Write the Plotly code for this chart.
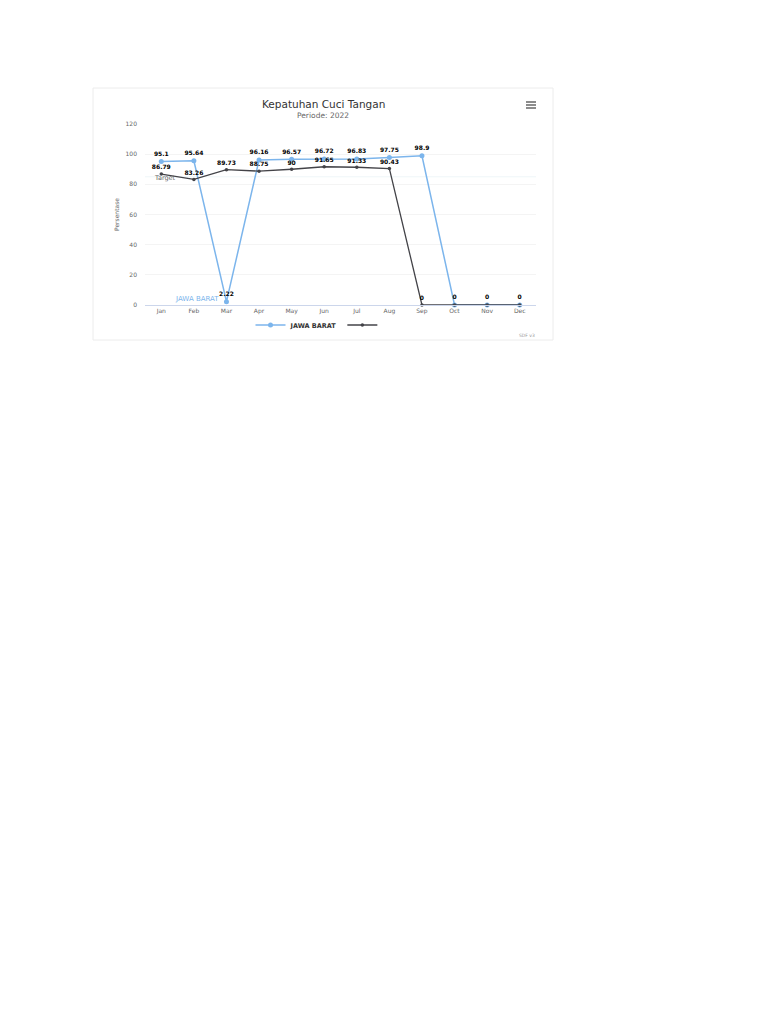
import plotly.graph_objects as go

months = ["Jan", "Feb", "Mar", "Apr", "May", "Jun", "Jul", "Aug", "Sep", "Oct", "Nov", "Dec"]
jawa_barat = [95.1, 95.64, 2.22, 96.16, 96.57, 96.72, 96.83, 97.75, 98.9, 0, 0, 0]
target_series = [86.79, 83.26, 89.73, 88.75, 90, 91.65, 91.33, 90.43, 0, 0, 0, 0]
y_ticks = [0, 20, 40, 60, 80, 100, 120]
target_line = 85

BLUE = "#7cb5ec"
DARK = "#434348"
FONT = "DejaVu Sans"

def fmt(v):
    return "%g" % v

blue_text = [fmt(v) for v in jawa_barat]
# hide the dark-series labels where both series sit on 0 after September (overlapping labels)
dark_text = ["" if (i >= 9 and d == b) else fmt(d) for i, (d, b) in enumerate(zip(target_series, jawa_barat))]

fig = go.Figure()
fig.add_trace(go.Scatter(
    x=months, y=jawa_barat, name="JAWA BARAT", mode="lines+markers+text",
    line=dict(color=BLUE, width=1.5), marker=dict(color=BLUE, size=5),
    text=blue_text, textposition="top center",
    textfont=dict(family=FONT, size=6, color="#000000", weight="bold"),
    cliponaxis=False, hoverinfo="skip",
))
fig.add_trace(go.Scatter(
    x=months, y=target_series, name="", mode="lines+markers+text",
    line=dict(color=DARK, width=1.3), marker=dict(color=DARK, size=3.5),
    text=dark_text, textposition="top center",
    textfont=dict(family=FONT, size=6, color="#000000", weight="bold"),
    cliponaxis=False, hoverinfo="skip",
))

OFF = 8  # page body margin
L, R, T, B = 145 - OFF, 536 - OFF, 124 - OFF, 305 - OFF
W, H = 768, 1024

def px(xp):
    return (xp - OFF - L) / (R - L)

def py(yp):
    return (B - (yp - OFF)) / (B - T)

shapes = [
    dict(type="rect", xref="paper", yref="paper", x0=px(93), x1=px(553), y0=py(340), y1=py(88),
         line=dict(color="#ececec", width=1), fillcolor="rgba(0,0,0,0)", layer="below"),
    dict(type="line", xref="paper", yref="y", x0=0, x1=1, y0=target_line, y1=target_line,
         line=dict(color="#eef6f8", width=1), layer="below"),
]
for yy in (102, 105, 108):
    shapes.append(dict(type="line", xref="paper", yref="paper", x0=px(526), x1=px(536),
                       y0=py(yy), y1=py(yy), line=dict(color="#666666", width=1.5)))

annotations = [
    dict(text="Kepatuhan Cuci Tangan", xref="paper", yref="paper", x=px(323), y=py(104),
         showarrow=False, font=dict(family=FONT, size=10.5, color="#333333"), xanchor="center", yanchor="middle"),
    dict(text="Periode: 2022", xref="paper", yref="paper", x=px(323), y=py(115),
         showarrow=False, font=dict(family=FONT, size=7.5, color="#666666"), xanchor="center", yanchor="middle"),
    dict(text="Target", xref="x", yref="y", x=-0.28, y=84.2, xanchor="left", yanchor="middle",
         showarrow=False, font=dict(family=FONT, size=6.5, color="#666666")),
    dict(text="JAWA BARAT", xref="x", yref="y", x=1.82, y=4.0, xanchor="right", yanchor="middle",
         showarrow=False, font=dict(family=FONT, size=7, color=BLUE)),
    dict(text="SDF v3", xref="paper", yref="paper", x=px(537), y=py(335), xanchor="right", yanchor="middle",
         showarrow=False, font=dict(family=FONT, size=4.5, color="#999999")),
]

fig.update_layout(
    width=W, height=H,
    margin=dict(l=L, r=W - R, t=T, b=H - B, pad=0),
    paper_bgcolor="white", plot_bgcolor="white",
    font=dict(family=FONT, size=6, color="#666666"),
    showlegend=True,
    legend=dict(orientation="h", x=px(319), xanchor="center", y=py(325), yanchor="middle",
                font=dict(family=FONT, size=6.5, color="#333333", weight="bold"),
                itemwidth=30, tracegroupgap=0, bgcolor="rgba(0,0,0,0)"),
    shapes=shapes, annotations=annotations,
    hovermode=False,
)
fig.update_xaxes(
    range=[-0.5, 11.5], showgrid=False, showline=True, linecolor="#ccd6eb", linewidth=1,
    ticks="", tickfont=dict(family=FONT, size=6, color="#666666"), zeroline=False,
    categoryorder="array", categoryarray=months, fixedrange=True,
)
fig.update_yaxes(
    range=[0, 120], tickvals=y_ticks, showgrid=True, gridcolor="#f4f4f4", gridwidth=1,
    zeroline=False, showline=False, ticks="", ticklabelstandoff=7,
    tickfont=dict(family=FONT, size=6, color="#666666"),
    title=dict(text="Persentase", font=dict(family=FONT, size=6, color="#666666"), standoff=5),
    fixedrange=True,
)

fig.write_html("out.html", config={"displayModeBar": False})
